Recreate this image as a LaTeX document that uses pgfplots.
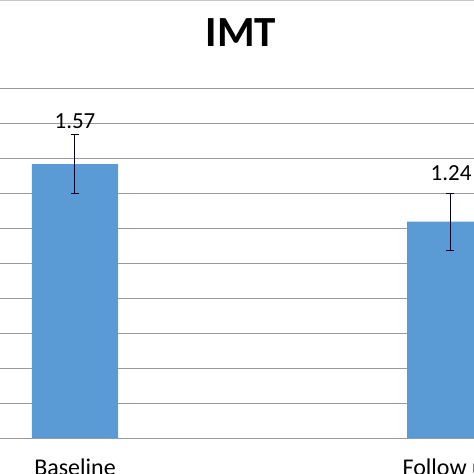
\documentclass[border=0pt]{standalone}
\usepackage{pgfplots}
\pgfplotsset{compat=1.18}
\usepackage{fontspec}
\setmainfont{Carlito}
\definecolor{barblue}{RGB}{91,155,213}
\definecolor{gridgray}{RGB}{155,155,155}
\begin{document}
\begin{tikzpicture}
\path[use as bounding box, clip] (0pt,0pt) rectangle (474pt,474pt);
\begin{axis}[
  at={(-112.5pt,36pt)}, anchor=south west,
  scale only axis, width=750pt, height=349pt,
  xmin=-0.5, xmax=1.5, ymin=0, ymax=2,
  xtick={0,1}, xticklabels={Baseline,Follow up},
  xticklabel style={font=\fontsize{24}{28}\selectfont, yshift=-17pt},
  major tick length=0pt,
  ytick={0,0.2,...,2.01}, yticklabels={},
  ymajorgrids, grid style={gridgray, line width=1pt},
  axis line style={draw=none},
]
\addplot[ybar, bar width=86pt, fill=barblue, draw=none,
  error bars/.cd, y dir=both, y explicit,
  error bar style={line width=1pt, color=black!85!blue},
  error mark options={rotate=90, mark size=4pt, line width=1pt, color=black!85!blue}]
  coordinates {(0,1.57) +- (0,0.167) (1,1.24) +- (0,0.164)};
\addplot[only marks, mark=none, point meta=explicit symbolic,
  nodes near coords, nodes near coords style={anchor=center, font=\fontsize{23}{27}\selectfont, text=black}]
  coordinates {(0,1.813) [1.57] (1.003,1.519) [1.24]};
\end{axis}
\node[font=\bfseries\fontsize{43}{50}\selectfont, anchor=center] at (241pt,441.2pt) {IMT};
\draw[gray!45, line width=1.5pt] (0pt,473.8pt) -- (474pt,473.8pt);
\end{tikzpicture}
\end{document}
